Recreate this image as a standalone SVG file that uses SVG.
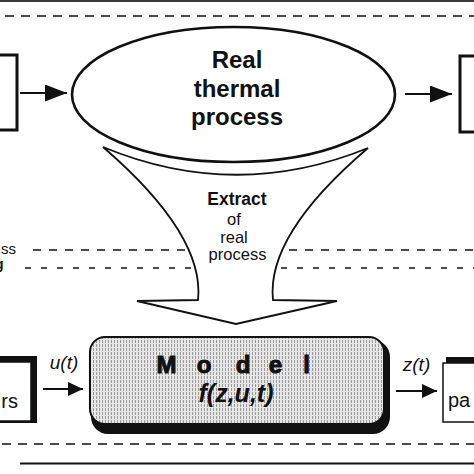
<svg xmlns="http://www.w3.org/2000/svg" width="474" height="474" viewBox="0 0 474 474">
<style>
.t{font-family:"Liberation Sans",Arial,sans-serif;fill:#111}
.b{font-weight:bold}
.box{fill:#fff;stroke:#111}
.dash{stroke:#111;stroke-width:1.6;fill:none}
.conn{stroke:#111;stroke-width:2;fill:none}
</style>
<defs>
<marker id="aL" markerUnits="userSpaceOnUse" markerWidth="22" markerHeight="17" refX="22" refY="8.5" orient="auto">
<path d="M0,0 L22,8.5 L0,17 Z" fill="#111"/>
</marker>
<marker id="aS" markerUnits="userSpaceOnUse" markerWidth="15" markerHeight="14" refX="15" refY="7" orient="auto">
<path d="M0,0 L15,7 L0,14 Z" fill="#111"/>
</marker>
<pattern id="dots" patternUnits="userSpaceOnUse" width="3" height="4">
<rect width="3" height="4" fill="#e6e6e6"/>
<rect x="0" y="0" width="1" height="3" fill="#9a9a9a"/>
</pattern>
</defs>
<rect width="474" height="474" fill="#fff"/>
<rect x="0" y="0" width="474" height="2" fill="#3a3a3a"/>
<g id="separators">
<line class="dash" x1="5" y1="16" x2="474" y2="16" stroke-dasharray="9 7"/>
<line class="dash" x1="33" y1="250" x2="474" y2="250" stroke-dasharray="8 8"/>
<line class="dash" x1="25" y1="268" x2="474" y2="268" stroke-dasharray="6 10" stroke-width="1.3"/>
<line class="dash" x1="2" y1="444" x2="474" y2="444" stroke-dasharray="9 7"/>
<line x1="20" y1="463.5" x2="474" y2="463.5" stroke="#111" stroke-width="2"/>
<text class="t" x="16" y="254" font-size="15" text-anchor="end">ss</text>
<text class="t b" x="3.5" y="269" font-size="14" text-anchor="end">g</text>
</g>
<g id="extract">
<path d="M103,147 Q235.5,202 368,148 Q266,235 273,300 L337,301 L236,324 L137,301 L198,300 Q205,235 103,147 Z" fill="#fff" stroke="#111" stroke-width="1.8" stroke-linejoin="miter"/>
<text class="t b" x="237" y="205" font-size="17.5" text-anchor="middle">Extract</text>
<text class="t" x="234" y="225" font-size="16.5" text-anchor="middle">of</text>
<text class="t" x="234" y="243" font-size="16.5" text-anchor="middle">real</text>
<text class="t" x="237.5" y="260" font-size="16.5" text-anchor="middle">process</text>
</g>
<g id="real-process">
<ellipse cx="233.5" cy="94.5" rx="161.5" ry="67.5" fill="#fff" stroke="#111" stroke-width="2.6"/>
<text class="t b" x="237" y="68" font-size="24" text-anchor="middle">Real</text>
<text class="t b" x="237" y="97" font-size="24" text-anchor="middle">thermal</text>
<text class="t b" x="237" y="125" font-size="24" text-anchor="middle">process</text>
</g>
<g id="input-top">
<rect class="box" x="-5" y="55" width="22" height="75" stroke-width="3"/>
</g>
<g id="output-top">
<rect class="box" x="460" y="56" width="20" height="76" stroke-width="3"/>
</g>
<g id="parameters-in">
<rect x="-10" y="356" width="47" height="67" fill="#111"/>
<rect class="box" x="-10" y="362" width="41" height="59" stroke-width="1.5"/>
<text class="t" x="18" y="408" font-size="20" text-anchor="end">rs</text>
</g>
<g id="parameters-out">
<rect x="446" y="357" width="40" height="65" fill="#111"/>
<rect class="box" x="443" y="363" width="40" height="59" stroke-width="1.5"/>
<text class="t" x="448" y="407" font-size="20">pa</text>
</g>
<g id="model">
<rect x="91" y="340" width="299" height="94" rx="17" fill="#111"/>
<rect x="90" y="337" width="294" height="87" rx="15" fill="url(#dots)" stroke="#111" stroke-width="2"/>
<text class="t b" y="373" font-size="24" text-anchor="middle" stroke="#111" stroke-width="1" x="166.5 185 204 224 243 259 275.5 291 306.5">M o d e l</text>
<text class="t b" x="236" y="402" font-size="25" font-style="italic" text-anchor="middle">f(z,u,t)</text>
</g>
<g id="connectors">
<line class="conn" x1="20" y1="93" x2="67" y2="93" marker-end="url(#aL)"/>
<line class="conn" x1="405" y1="94" x2="452" y2="94" marker-end="url(#aL)"/>
<line class="conn" x1="43" y1="389" x2="83" y2="389" marker-end="url(#aS)" stroke-width="2.5"/>
<line class="conn" x1="396" y1="391" x2="437" y2="391" marker-end="url(#aS)" stroke-width="2.5"/>
<text class="t" x="64" y="369" font-size="19" font-style="italic" text-anchor="middle">u(t)</text>
<text class="t" x="416.5" y="371" font-size="19" font-style="italic" text-anchor="middle">z(t)</text>
</g>
</svg>
